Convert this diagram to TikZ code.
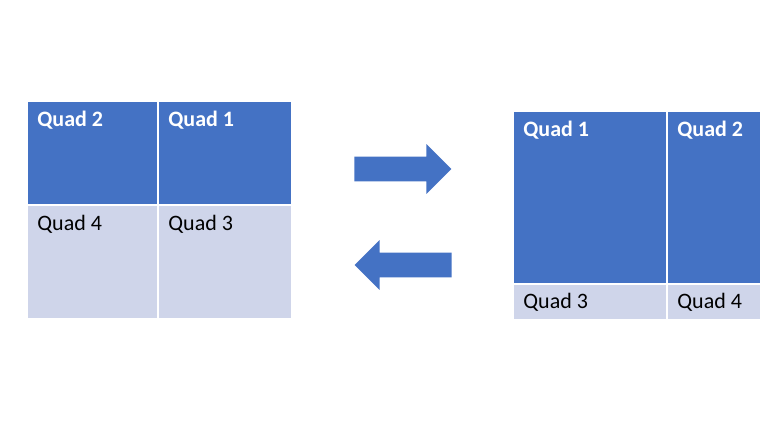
\documentclass[tikz,border=0pt]{standalone}
\usepackage{fontspec}
\setmainfont{Carlito}
\usepackage{xcolor}
\usepackage{tikz}
\usetikzlibrary{positioning,shapes.arrows}

\definecolor{quadblue}{HTML}{4472C4}
\definecolor{quadpale}{HTML}{CFD5EA}

\begin{document}
\begin{tikzpicture}[
  x=0.5pt, y=-0.5pt,
  font=\fontsize{11}{13}\selectfont,
  cell/.style={draw=white, line width=0.8pt, outer sep=0pt, inner sep=0pt, anchor=north west},
  hot/.style={cell, fill=quadblue},
  cold/.style={cell, fill=quadpale},
  hottxt/.style={anchor=north west, inner sep=5pt, text=white, font=\fontsize{11}{13}\selectfont\bfseries},
  coldtxt/.style={anchor=north west, inner sep=5pt, text=black},
  swap/.style={single arrow, fill=quadblue, draw=none, minimum height=48.5pt,
               inner xsep=0pt, inner ysep=6pt, single arrow head extend=6.25pt, anchor=tail},
]
  \useasboundingbox (0,0) rectangle (768,432);

  % ---------------- left layout ----------------
  \node[hot, minimum width=65.5pt, minimum height=52pt] (l2) at (27,101) {};
  \node[hot, minimum width=67pt, minimum height=52pt, right=0pt of l2] (l1) {};
  \node[cold, minimum width=65.5pt, minimum height=57pt, below=0pt of l2] (l4) {};
  \node[cold, minimum width=67pt, minimum height=57pt, below=0pt of l1] (l3) {};
  \node[hottxt] (l2t) at (l2.north west) {Quad 2};
  \node[hottxt] (l1t) at (l1.north west) {Quad 1};
  \node[coldtxt] (l4t) at (l4.north west) {Quad 4};
  \node[coldtxt] (l3t) at (l3.north west) {Quad 3};

  % ---------------- swap arrows ----------------
  \node[swap] (toR) at (354,169) {};
  \node[swap, shape border rotate=180] (toL) at (452,265) {};

  % ---------------- right layout ----------------
  \node[hot, minimum width=77pt, minimum height=86.5pt] (r1) at (513,111) {};
  \node[hot, minimum width=47pt, minimum height=86.5pt, right=0pt of r1] (r2) {};
  \node[cold, minimum width=77pt, minimum height=18pt, below=0pt of r1] (r3) {};
  \node[cold, minimum width=47pt, minimum height=18pt, below=0pt of r2] (r4) {};
  \node[hottxt] (r1t) at (r1.north west) {Quad 1};
  \node[hottxt] (r2t) at (r2.north west) {Quad 2};
  \node[coldtxt, anchor=west] (r3t) at (r3.west) {Quad 3};
  \node[coldtxt, anchor=west] (r4t) at (r4.west) {Quad 4};
\end{tikzpicture}
\end{document}
